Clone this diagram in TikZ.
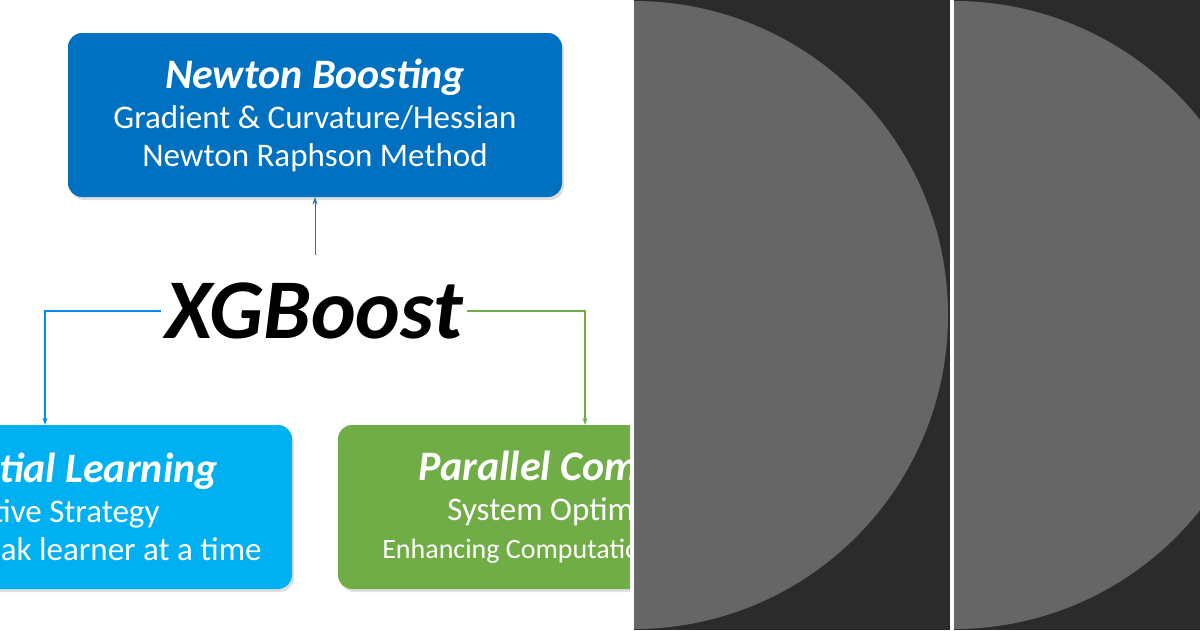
\documentclass[tikz,border=0pt]{standalone}
\usepackage{fontspec}
\setmainfont{Carlito}
\usetikzlibrary{arrows.meta,shadows}
\definecolor{nb}{HTML}{0070C0}
\definecolor{sl}{HTML}{00B0F0}
\definecolor{pc}{HTML}{70AD47}
\definecolor{dk}{HTML}{2B2B2B}
\definecolor{gr}{HTML}{666666}
\newcommand{\bxtitle}[1]{{\fontsize{42}{44}\selectfont\bfseries\itshape #1}\\[2pt]}
\begin{document}
\begin{tikzpicture}[x=1pt,y=-1pt,
  boxst/.style={rounded corners=14pt,minimum width=494pt,minimum height=164pt,draw=none,
    drop shadow={shadow xshift=2pt,shadow yshift=-3pt,opacity=0.25},
    text=white,align=center,font=\fontsize{33}{38}\selectfont},
  conn/.style={line width=1.6pt,-{Stealth[length=7pt,width=5pt]}}]
\useasboundingbox (0,0) rectangle (1200,630);
\fill[white] (0,0) rectangle (1200,630);
\begin{scope}
\clip (0,0) rectangle (630,630);
\node[boxst,fill=nb] (nbx) at (315,115) {\bxtitle{Newton Boosting}Gradient \& Curvature/Hessian\\Newton Raphson Method};
\node[boxst,fill=sl] (slx) at (45,507) {\bxtitle{Sequential Learning}Iterative Strategy\\Adds one weak learner at a time};
\node[boxst,fill=pc] (pcx) at (585,507) {\bxtitle{Parallel Computing}System Optimization\\{\fontsize{28}{38}\selectfont Enhancing Computational Efficiency}};
\node[font=\fontsize{85}{90}\selectfont\bfseries\itshape,inner sep=4pt] (xg) at (314,311) {XGBoost};
\coordinate (xt) at (315,255);
\draw[conn,draw=nb!80!gray,line width=1pt] (xt) -- (nbx.south);
\draw[conn,draw=sl!80!blue] (xg.west) -- (45,311) -- (slx.north);
\draw[conn,draw=pc] (xg.east) -- (585,311) -- (pcx.north);
\end{scope}
\fill[dk] (634,0) rectangle (1200,630);
\begin{scope}
\clip (634,0) rectangle (950,630);
\fill[gr] (634,315) circle (314);
\end{scope}
\begin{scope}
\clip (954,0) rectangle (1200,630);
\fill[gr] (954,315) circle (314);
\end{scope}
\fill[white] (950,0) rectangle (954,630);
\end{tikzpicture}
\end{document}
